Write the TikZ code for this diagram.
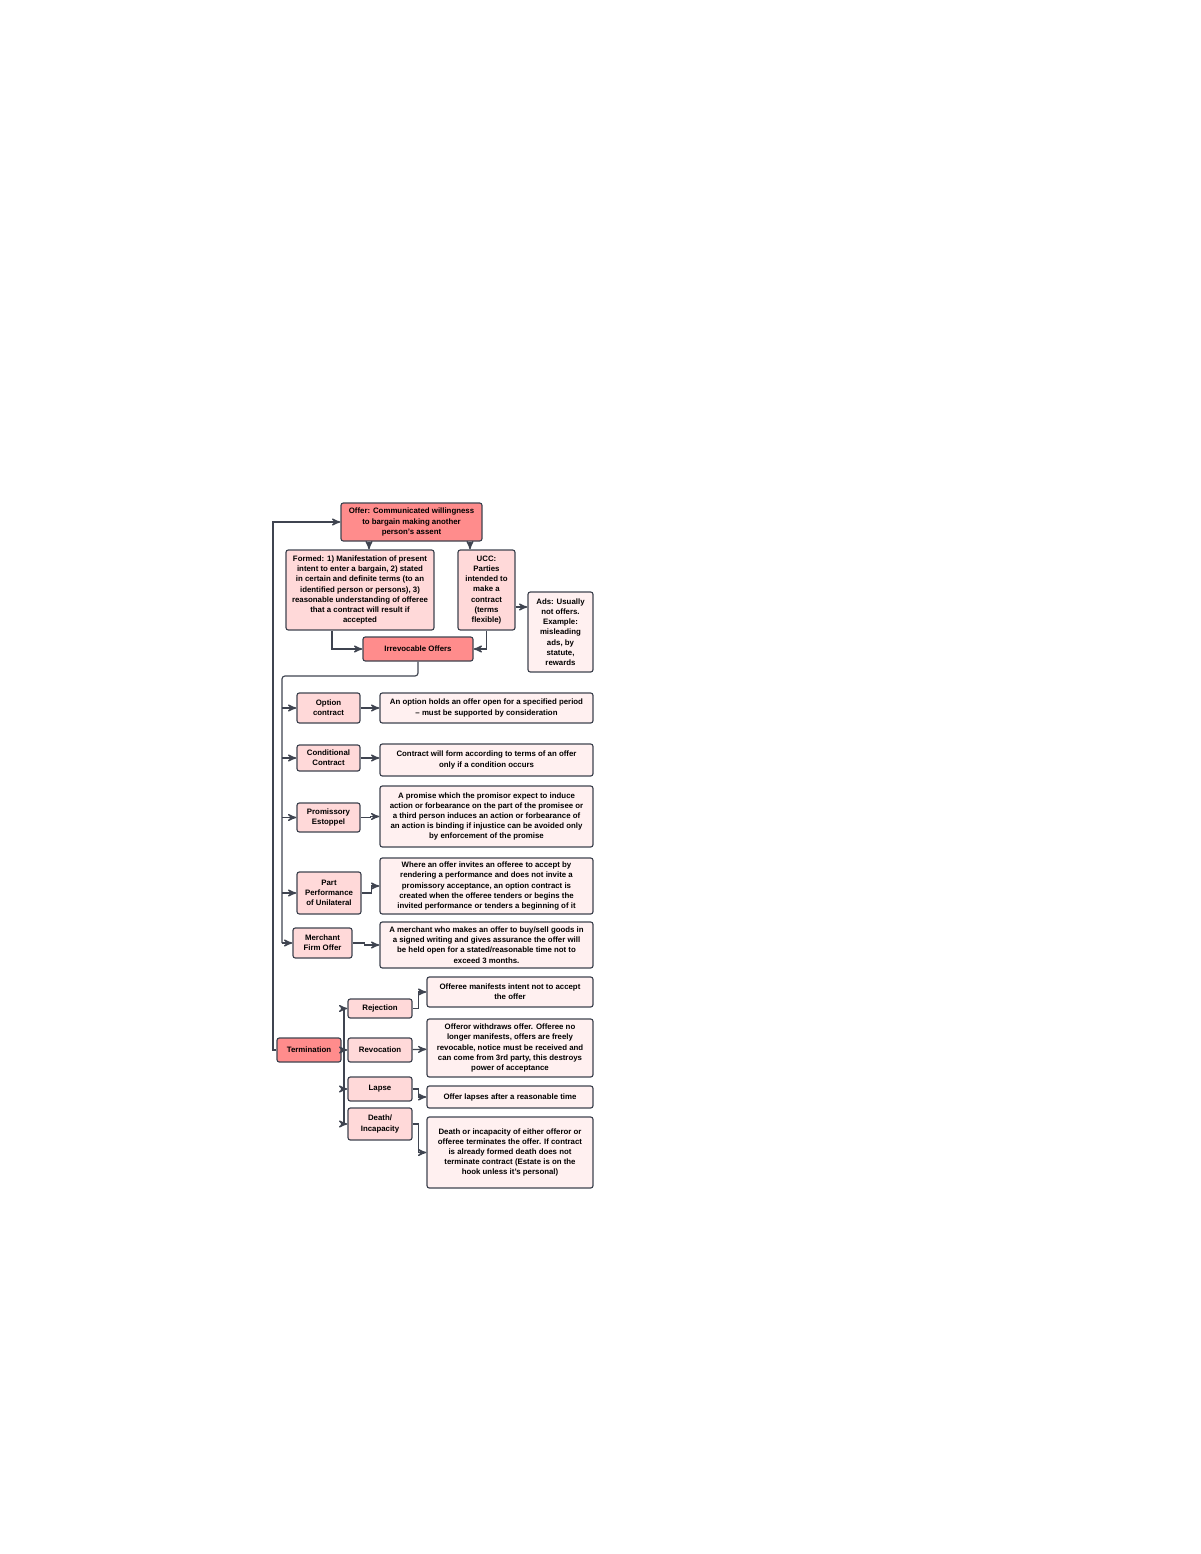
\documentclass[tikz,border=0pt]{standalone}
\usepackage{fontspec}
\setsansfont{Liberation Sans}
\usepackage{tikz}
\usetikzlibrary{arrows,positioning,calc}

\definecolor{keyred}{HTML}{FF8C8C}
\definecolor{subpink}{HTML}{FFD9D9}
\definecolor{notepink}{HTML}{FFF0F0}
\definecolor{edgegray}{HTML}{3F4450}
\def\pxu{0.51pt}

\begin{document}
\begin{tikzpicture}[x=0.51pt,y=-0.51pt,->,>=stealth',
  every path/.style={draw=edgegray,line width=0.6pt},
  base node/.style={rectangle,draw=edgegray,line width=0.6pt,rounded corners=1.2pt,
    inner sep=0pt,align=center,font=\sffamily\bfseries\fontsize{4}{5.2}\selectfont},
  key node/.style={base node,fill=keyred},
  sub node/.style={base node,fill=subpink},
  note node/.style={base node,fill=notepink}]

  \useasboundingbox[draw=none] (0,0) rectangle (1200,1554);

  % offer and its formation
  \node[key node,minimum width=141*\pxu,minimum height=38*\pxu] (offer) at (411.5,522)
    {Offer: Communicated willingness\\to bargain making another\\person's assent};
  \node[sub node,minimum width=148*\pxu,minimum height=80*\pxu] (formed) at (360,590)
    {Formed: 1) Manifestation of present\\intent to enter a bargain, 2) stated\\in certain and definite terms (to an\\identified person or persons), 3)\\reasonable understanding of offeree\\that a contract will result if\\accepted};
  \node[sub node,minimum width=57*\pxu,minimum height=80*\pxu] (ucc) at (486.5,590)
    {UCC:\\Parties\\intended to\\make a\\contract\\(terms\\flexible)};
  \node[note node,minimum width=65*\pxu,minimum height=80*\pxu] (ads) at (560.5,632)
    {Ads: Usually\\not offers.\\Example:\\misleading\\ads, by\\statute,\\rewards};
  \node[key node,minimum width=110*\pxu,minimum height=24*\pxu] (irrev) at (418,649)
    {Irrevocable Offers};

  % irrevocable offers
  \node[sub node,minimum width=63*\pxu,minimum height=30*\pxu] (option) at (328.5,708)
    {Option\\contract};
  \node[note node,minimum width=213*\pxu,minimum height=30*\pxu] (optiond) at (486.5,708)
    {An option holds an offer open for a specified period\\-- must be supported by consideration};
  \node[sub node,minimum width=63*\pxu,minimum height=26*\pxu] (cond) at (328.5,758)
    {Conditional\\Contract};
  \node[note node,minimum width=213*\pxu,minimum height=32*\pxu] (condd) at (486.5,760)
    {Contract will form according to terms of an offer\\only if a condition occurs};
  \node[sub node,minimum width=63*\pxu,minimum height=29*\pxu] (prom) at (328.5,817.5)
    {Promissory\\Estoppel};
  \node[note node,minimum width=213*\pxu,minimum height=61*\pxu] (promd) at (486.5,816.5)
    {A promise which the promisor expect to induce\\action or forbearance on the part of the promisee or\\a third person induces an action or forbearance of\\an action is binding if injustice can be avoided only\\by enforcement of the promise};
  \node[sub node,minimum width=64*\pxu,minimum height=42*\pxu] (part) at (329,893)
    {Part\\Performance\\of Unilateral};
  \node[note node,minimum width=213*\pxu,minimum height=56*\pxu] (partd) at (486.5,886)
    {Where an offer invites an offeree to accept by\\rendering a performance and does not invite a\\promissory acceptance, an option contract is\\created when the offeree tenders or begins the\\invited performance or tenders a beginning of it};
  \node[sub node,minimum width=59*\pxu,minimum height=30*\pxu] (merch) at (322.5,943)
    {Merchant\\Firm Offer};
  \node[note node,minimum width=213*\pxu,minimum height=46*\pxu] (merchd) at (486.5,945)
    {A merchant who makes an offer to buy/sell goods in\\a signed writing and gives assurance the offer will\\be held open for a stated/reasonable time not to\\exceed 3 months.};

  % termination
  \node[key node,minimum width=64*\pxu,minimum height=24*\pxu] (term) at (309,1050)
    {Termination};
  \node[sub node,minimum width=64*\pxu,minimum height=19*\pxu] (rej) at (380,1008.5)
    {Rejection};
  \node[note node,minimum width=166*\pxu,minimum height=30*\pxu] (rejd) at (510,992)
    {Offeree manifests intent not to accept\\the offer};
  \node[sub node,minimum width=64*\pxu,minimum height=24*\pxu] (revo) at (380,1050)
    {Revocation};
  \node[note node,minimum width=166*\pxu,minimum height=58*\pxu] (revod) at (510,1048)
    {Offeror withdraws offer. Offeree no\\longer manifests, offers are freely\\revocable, notice must be received and\\can come from 3rd party, this destroys\\power of acceptance};
  \node[sub node,minimum width=64*\pxu,minimum height=24*\pxu] (lapse) at (380,1089)
    {Lapse};
  \node[note node,minimum width=166*\pxu,minimum height=22*\pxu] (lapsed) at (510,1097)
    {Offer lapses after a reasonable time};
  \node[sub node,minimum width=64*\pxu,minimum height=32*\pxu] (death) at (380,1124)
    {Death/\\Incapacity};
  \node[note node,minimum width=166*\pxu,minimum height=71*\pxu] (deathd) at (510,1152.5)
    {Death or incapacity of either offeror or\\offeree terminates the offer. If contract\\is already formed death does not\\terminate contract (Estate is on the\\hook unless it's personal)};

  \coordinate (loop) at (273,522);
  \coordinate (trunk) at (282,676);
  \coordinate (ttop) at (344,1008.5);

  \draw ([xshift=-42.5*\pxu]offer.south) coordinate (a1) -- (a1 |- formed.north);
  \draw ([xshift=58.5*\pxu]offer.south) coordinate (a2) -- (a2 |- ucc.north);
  \draw ([xshift=-28*\pxu]formed.south) |- (irrev.west);
  \draw (ucc.south) |- (irrev.east);
  \draw ([yshift=-17*\pxu]ucc.east) coordinate (a3) -- (a3 -| ads.west);

  \draw[-,rounded corners=1.5pt] (irrev.south) |- (trunk) -- (trunk |- merch.west);
  \foreach \n in {option,cond,prom,part,merch}
    \draw (trunk |- \n.west) -- (\n.west);
  \draw (option) -- (optiond);
  \draw (cond) -- (cond -| condd.west);
  \draw (prom.east) -- ++(10,0) |- (promd.west);
  \draw (part.east) -- ++(10,0) |- (partd.west);
  \draw (merch.east) -- ++(12,0) |- (merchd.west);

  \draw (term.west) -| (loop) -- (offer.west);
  \draw[-] (term.east) -- (term.east -| ttop);
  \draw[-] (ttop) -- (ttop |- death.west);
  \foreach \n in {rej,revo,lapse,death}
    \draw (ttop |- \n.west) -- (\n.west);
  \draw (rej.east) -- ++(6,0) |- (rejd.west);
  \draw (revo) -- (revod);
  \draw (lapse.east) -- ++(6,0) |- (lapsed.west);
  \draw (death.east) -- ++(6,0) |- (deathd.west);
\end{tikzpicture}
\end{document}
